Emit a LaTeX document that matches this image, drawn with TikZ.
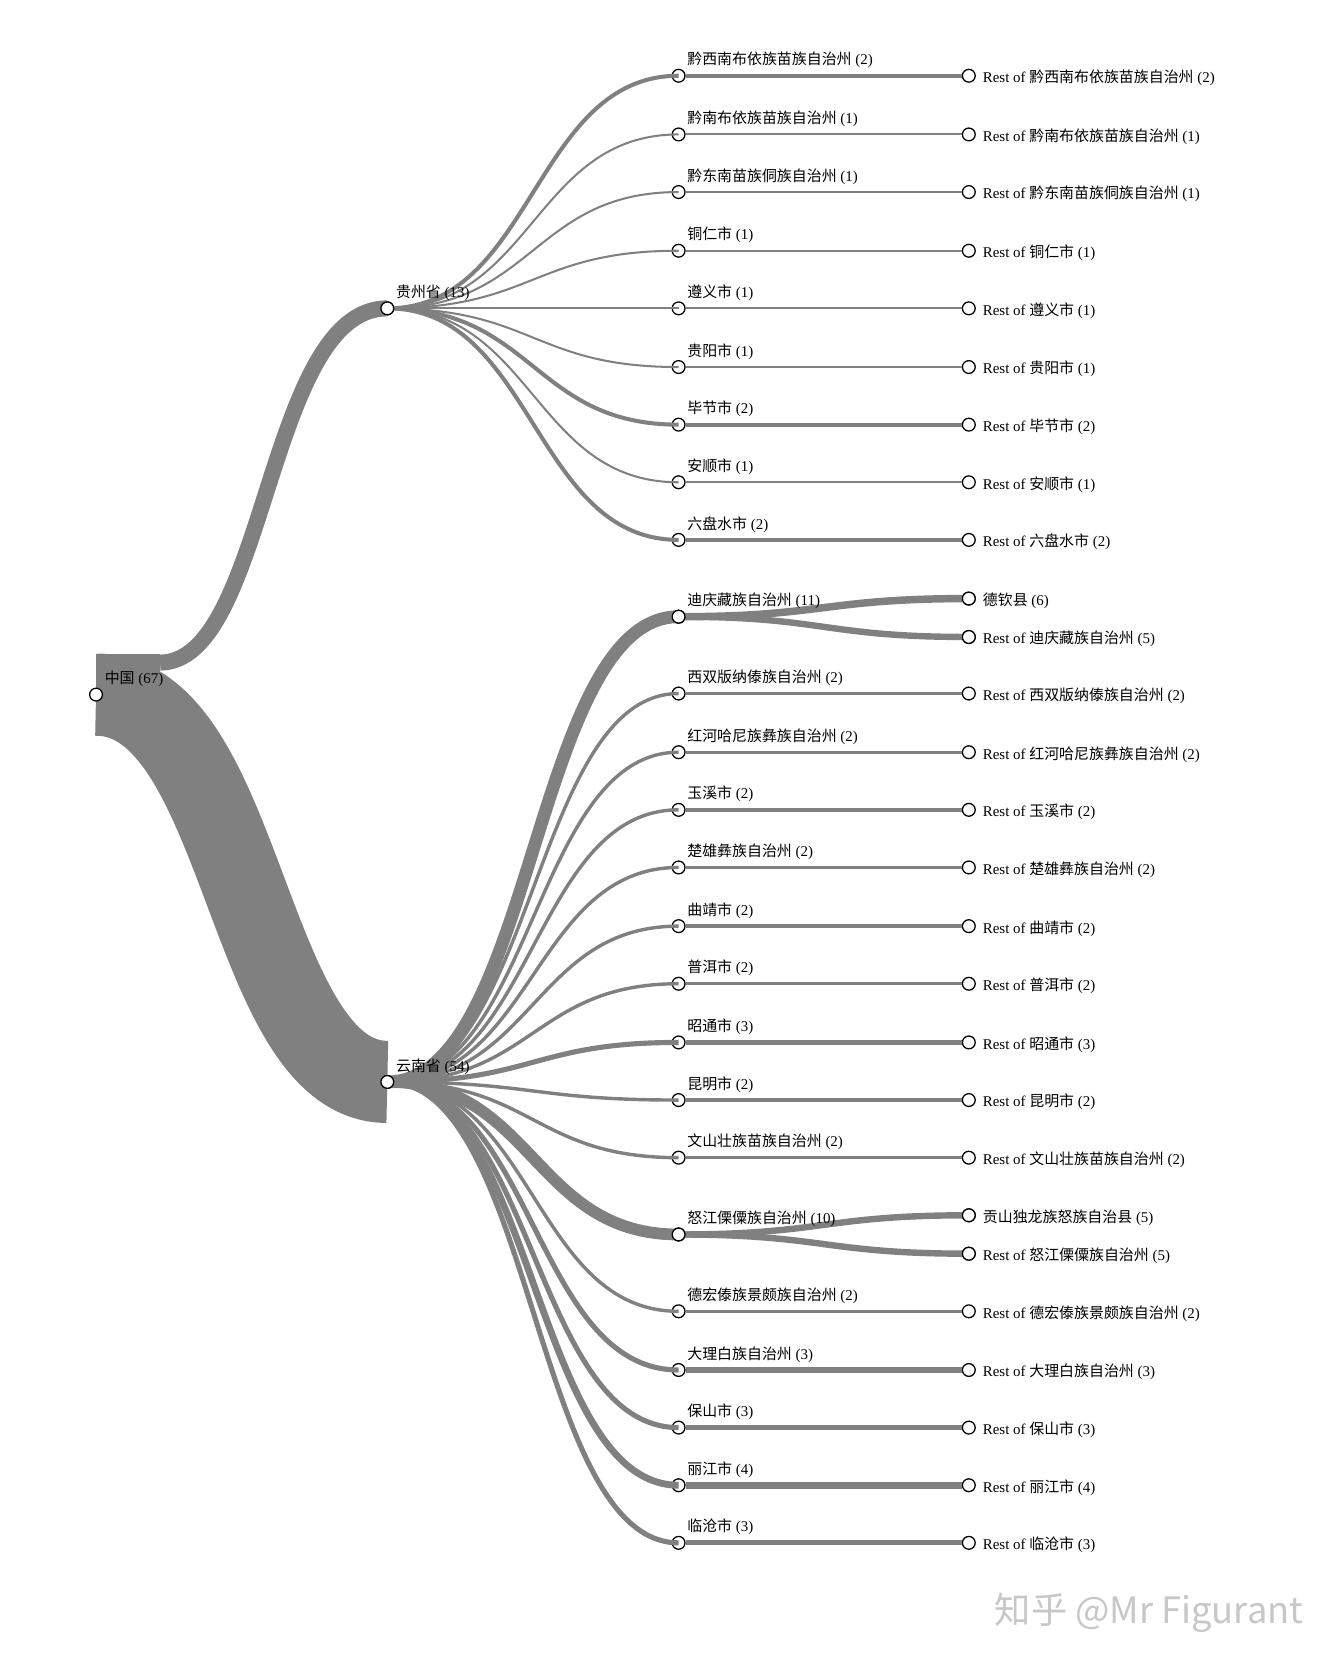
\documentclass[tikz,border=0pt]{standalone}
\usepackage{fontspec}
\setmainfont{Liberation Serif}
\newfontfamily\cjk{Noto Sans CJK SC}
\definecolor{band}{HTML}{808080}
\newcommand{\lbl}[2]{{\cjk #1} (#2)}
\newcommand{\rst}[2]{Rest of {\cjk #1} (#2)}
\begin{document}
\begin{tikzpicture}[x=1pt,y=-1pt]
\tikzset{dot/.style = {shape=circle,draw,fill=white,inner sep=0pt,minimum size=12pt,line width=1.2pt}}
\tikzset{link/.style = {draw=band}}
\tikzset{lab/.style = {anchor=south west,inner sep=1pt,font=\fontsize{14}{16}\selectfont}}
\tikzset{rlab/.style = {anchor=west,inner sep=1pt,font=\fontsize{14}{16}\selectfont}}
\useasboundingbox (0,0) rectangle (1255,1568);
% root and provinces
\fill[band] (90,613) rectangle (150,690);
\coordinate (cnG) at (150,621);
\coordinate (cnY) at (90,651);
\node[dot] (gz) at (363,289) {};
\node[dot] (yn) at (363,1014) {};
\draw[link,line width=77pt] (cnY) .. controls (230,651) and (230,1014) .. (yn.center);
\draw[link,line width=15pt] (cnG) .. controls (250,621) and (250,289) .. (gz.center);
\node[dot] (cn) at (90,651) {};
\node[lab] at (97,645) {\lbl{中国}{67}};
% guizhou
\foreach \i/\nm/\n/\y in {1/黔西南布依族苗族自治州/2/71, 2/黔南布依族苗族自治州/1/126,
  3/黔东南苗族侗族自治州/1/180, 4/铜仁市/1/235, 5/遵义市/1/289, 6/贵阳市/1/344,
  7/毕节市/2/398, 8/安顺市/1/452, 9/六盘水市/2/506}{
  \pgfmathsetmacro{\w}{max(1.6,\n*1.9)}
  \node[dot] (g\i) at (636,\y) {};
  \node[dot] (gr\i) at (908,\y) {};
  \draw[link,line width=\w pt] (gz.center) .. controls (500,289) and (500,\y) .. (g\i.center);
  \draw[link,line width=\w pt] (g\i) -- (gr\i);
  \node[lab] at (643,\y-6) {\lbl{\nm}{\n}};
  \node[rlab] at (920,\y+2) {\rst{\nm}{\n}};
}
\node[dot] at (363,289) {};
\node[lab] at (370,283) {\lbl{贵州省}{13}};
% yunnan
\foreach \i/\nm/\n/\y in {2/西双版纳傣族自治州/2/650, 3/红河哈尼族彝族自治州/2/705,
  4/玉溪市/2/759, 5/楚雄彝族自治州/2/813, 6/曲靖市/2/868, 7/普洱市/2/922,
  8/昭通市/3/977, 9/昆明市/2/1031, 10/文山壮族苗族自治州/2/1085,
  12/德宏傣族景颇族自治州/2/1229, 13/大理白族自治州/3/1284, 14/保山市/3/1338,
  15/丽江市/4/1392, 16/临沧市/3/1446}{
  \pgfmathsetmacro{\w}{\n*1.6}
  \node[dot] (y\i) at (636,\y) {};
  \node[dot] (yr\i) at (908,\y) {};
  \draw[link,line width=\w pt] (yn.center) .. controls (500,1014) and (500,\y) .. (y\i.center);
  \draw[link,line width=\w pt] (y\i) -- (yr\i);
  \node[lab] at (643,\y-6) {\lbl{\nm}{\n}};
  \node[rlab] at (920,\y+2) {\rst{\nm}{\n}};
}
% two split branches
\node[dot] (y1) at (636,578) {};
\node[dot] (dq1) at (908,561) {};
\node[dot] (dq2) at (908,597) {};
\draw[link,line width=12pt] (yn.center) .. controls (500,1014) and (500,578) .. (y1.center);
\draw[link,line width=7pt] (y1.center) .. controls (772,578) and (772,561) .. (dq1.center);
\draw[link,line width=6pt] (y1.center) .. controls (772,578) and (772,597) .. (dq2.center);
\node[dot] (y11) at (636,1157) {};
\node[dot] (nj1) at (908,1139) {};
\node[dot] (nj2) at (908,1175) {};
\draw[link,line width=11pt] (yn.center) .. controls (500,1014) and (500,1157) .. (y11.center);
\draw[link,line width=6pt] (y11.center) .. controls (772,1157) and (772,1139) .. (nj1.center);
\draw[link,line width=6pt] (y11.center) .. controls (772,1157) and (772,1175) .. (nj2.center);
\foreach \c in {y1,dq1,dq2,y11,nj1,nj2,yn}{\node[dot] at (\c) {};}
\node[lab] at (643,572) {\lbl{迪庆藏族自治州}{11}};
\node[rlab] at (920,563) {{\cjk 德钦县} (6)};
\node[rlab] at (920,599) {\rst{迪庆藏族自治州}{5}};
\node[lab] at (643,1151) {\lbl{怒江傈僳族自治州}{10}};
\node[rlab] at (920,1141) {{\cjk 贡山独龙族怒族自治县} (5)};
\node[rlab] at (920,1177) {\rst{怒江傈僳族自治州}{5}};
\node[lab] at (370,1008) {\lbl{云南省}{54}};
% watermark
\node[anchor=east,text=black!22,font=\cjk\fontsize{34}{36}\selectfont] at (1225,1512) {知乎 @Mr Figurant};
\end{tikzpicture}
\end{document}
